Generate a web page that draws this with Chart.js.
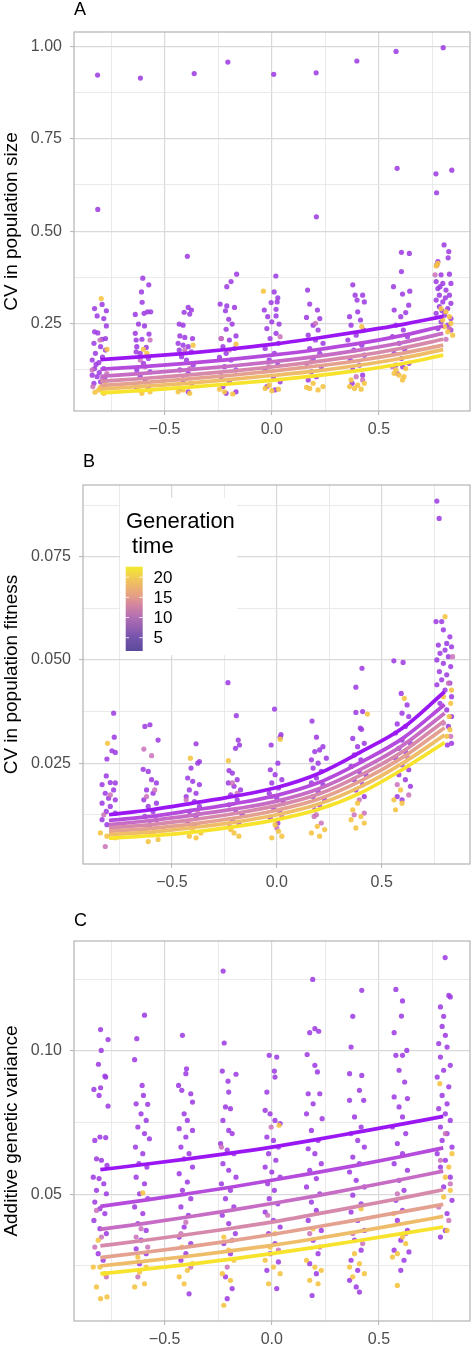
<!DOCTYPE html>
<html lang="en">
<head>
<meta charset="UTF-8">
<title>CV and additive genetic variance</title>
<style>
  html, body { margin: 0; padding: 0; background: #fff; overflow: hidden; }
  .panel { position: absolute; left: 0; width: 474px; }
  #panel-a { top: 0; height: 450px; }
  #panel-b { top: 450px; height: 450px; }
  #panel-c { top: 900px; height: 460px; }
</style>
</head>
<body>
<div class="panel" id="panel-a"><canvas id="chart-a" width="474" height="450"></canvas></div>
<div class="panel" id="panel-b"><canvas id="chart-b" width="474" height="450"></canvas></div>
<div class="panel" id="panel-c"><canvas id="chart-c" width="474" height="460"></canvas></div>

<script src="https://cdn.jsdelivr.net/npm/chart.js@4.4.0/dist/chart.umd.min.js"></script>
<script>
// x positions of the fitted curves
const FIT_X = [-0.8, -0.6, -0.4, -0.2, 0, 0.2, 0.4, 0.6, 0.8];

// colour bar ticks (generation time)
const GEN_TICKS = [5, 10, 15, 20];
const GEN_MIN = 1.7;
const GEN_MAX = 22.6;

// ---- panel A : CV in population size ----
const A_FITS = [
  [0.153, 0.161, 0.170, 0.181, 0.194, 0.210, 0.228, 0.247, 0.270],
  [0.127, 0.134, 0.143, 0.153, 0.165, 0.179, 0.196, 0.217, 0.244],
  [0.108, 0.116, 0.125, 0.135, 0.147, 0.161, 0.178, 0.198, 0.224],
  [0.094, 0.102, 0.111, 0.121, 0.133, 0.147, 0.163, 0.183, 0.208],
  [0.083, 0.091, 0.100, 0.110, 0.122, 0.135, 0.150, 0.169, 0.192],
  [0.073, 0.081, 0.089, 0.099, 0.110, 0.122, 0.137, 0.156, 0.180],
  [0.063, 0.070, 0.078, 0.087, 0.097, 0.109, 0.123, 0.141, 0.165]
];
const A_PURPLE = [
  [-0.813,0.922],[-0.613,0.914],[-0.362,0.926],[-0.205,0.957],[0.009,0.924],[0.207,0.928],[0.397,0.960],[0.580,0.986],[0.800,0.996],
  [-0.812,0.559],[0.585,0.670],[0.766,0.655],[0.840,0.665],[0.769,0.604],[0.208,0.539],[-0.394,0.432],[0.804,0.463],
  [0.605,0.443],[0.642,0.440],[0.826,0.445],[0.775,0.418],[0.823,0.428],
  [-0.827,0.291],[-0.792,0.302],[-0.772,0.285],[-0.815,0.271],[-0.784,0.264],[-0.772,0.244],[-0.827,0.228],[-0.812,0.225],
  [-0.776,0.210],[-0.792,0.208],[-0.830,0.197],[-0.799,0.188],[-0.776,0.179],[-0.823,0.170],[-0.838,0.152],[-0.807,0.145],
  [-0.827,0.129],[-0.784,0.129],[-0.838,0.111],[-0.815,0.107],[-0.830,0.089],[-0.799,0.093],[-0.790,0.160],[-0.820,0.140],
  [-0.805,0.118],[-0.780,0.103],
  [-0.602,0.373],[-0.574,0.355],[-0.608,0.336],[-0.605,0.308],[-0.637,0.275],[-0.596,0.278],[-0.580,0.282],[-0.565,0.282],
  [-0.622,0.249],[-0.594,0.244],[-0.637,0.224],[-0.573,0.222],[-0.633,0.206],[-0.606,0.208],[-0.630,0.188],[-0.586,0.186],
  [-0.633,0.174],[-0.614,0.170],[-0.576,0.156],[-0.599,0.143],[-0.630,0.125],[-0.568,0.120],[-0.614,0.107],[-0.591,0.093],
  [-0.633,0.080],[-0.576,0.075],
  [-0.409,0.281],[-0.390,0.294],[-0.375,0.287],[-0.383,0.276],[-0.432,0.249],[-0.414,0.246],[-0.429,0.217],[-0.406,0.213],
  [-0.370,0.210],[-0.437,0.197],[-0.414,0.192],[-0.390,0.188],[-0.432,0.179],[-0.375,0.174],[-0.421,0.161],[-0.398,0.152],
  [-0.367,0.138],[-0.429,0.125],[-0.390,0.116],[-0.414,0.098],[-0.375,0.089],[-0.429,0.075],[-0.390,0.066],
  [-0.164,0.384],[-0.190,0.364],[-0.210,0.350],[-0.241,0.303],[-0.210,0.298],[-0.216,0.285],[-0.174,0.294],[-0.201,0.262],
  [-0.185,0.249],[-0.213,0.235],[-0.167,0.217],[-0.236,0.210],[-0.198,0.206],[-0.228,0.188],[-0.174,0.183],[-0.213,0.170],
  [-0.244,0.159],[-0.190,0.152],[-0.221,0.134],[-0.167,0.125],[-0.236,0.107],[-0.198,0.093],[-0.228,0.080],[-0.167,0.066],
  [-0.213,0.062],
  [0.019,0.379],[0.011,0.336],[0.028,0.320],[0.025,0.309],[-0.003,0.307],[-0.035,0.287],[0.020,0.289],[-0.019,0.269],
  [0.020,0.271],[0.000,0.255],[0.034,0.249],[-0.023,0.237],[0.020,0.224],[-0.008,0.210],[0.031,0.197],[-0.031,0.183],
  [0.012,0.170],[-0.012,0.152],[0.028,0.138],[-0.031,0.125],[0.008,0.107],[0.039,0.093],[-0.023,0.080],[0.015,0.071],
  [0.167,0.341],[0.177,0.303],[0.213,0.287],[0.224,0.264],[0.162,0.267],[0.193,0.246],[0.216,0.233],[0.170,0.219],
  [0.204,0.206],[0.239,0.197],[0.177,0.183],[0.224,0.170],[0.193,0.156],[0.162,0.143],[0.231,0.134],[0.185,0.120],
  [0.208,0.107],[0.170,0.098],
  [0.378,0.355],[0.389,0.327],[0.424,0.327],[0.398,0.314],[0.432,0.309],[0.363,0.269],[0.401,0.282],[0.414,0.260],
  [0.370,0.246],[0.429,0.233],[0.394,0.219],[0.355,0.206],[0.420,0.192],[0.383,0.179],[0.432,0.165],[0.366,0.152],
  [0.409,0.138],[0.378,0.125],[0.424,0.111],[0.375,0.089],
  [0.568,0.350],[0.610,0.330],[0.644,0.338],[0.571,0.287],[0.625,0.280],[0.602,0.269],[0.639,0.300],[0.579,0.246],
  [0.614,0.233],[0.563,0.215],[0.633,0.215],[0.594,0.197],[0.620,0.181],[0.571,0.170],[0.605,0.156],[0.640,0.143],
  [0.579,0.138],[0.611,0.134],[0.605,0.391],
  [0.770,0.409],[0.790,0.382],[0.829,0.384],[0.767,0.364],[0.798,0.359],[0.836,0.359],[0.775,0.345],[0.813,0.341],
  [0.782,0.327],[0.829,0.327],[0.767,0.314],[0.798,0.309],[0.836,0.305],[0.782,0.296],[0.821,0.291],[0.767,0.278],
  [0.806,0.273],[0.836,0.264],[0.790,0.255],[0.821,0.246],[0.836,0.233],[0.775,0.237],[0.785,0.350],[0.810,0.320],
  [0.795,0.285]
];
const A_PINK = [
  [-0.802,0.206],[-0.838,0.125],[-0.790,0.100],[-0.835,0.080],[-0.770,0.115],
  [-0.568,0.206],[-0.614,0.152],[-0.591,0.134],
  [-0.406,0.179],[-0.383,0.129],
  [-0.236,0.210],[-0.198,0.179],
  [0.039,0.215],[-0.015,0.134],
  [0.204,0.251],[0.182,0.147],
  [0.394,0.107],[0.424,0.098],
  [0.586,0.116],[0.563,0.134],
  [0.813,0.208],[0.762,0.382],[0.829,0.237]
];
const A_GOLD = [
  [-0.796,0.318],[-0.769,0.181],[-0.807,0.071],[-0.784,0.062],[-0.825,0.065],[-0.800,0.078],[-0.775,0.085],
  [-0.599,0.181],[-0.583,0.170],[-0.622,0.071],[-0.568,0.066],[-0.606,0.062],
  [-0.367,0.192],[-0.414,0.071],[-0.383,0.062],[-0.437,0.066],
  [-0.167,0.195],[-0.221,0.066],[-0.182,0.060],[-0.244,0.073],
  [-0.039,0.338],[-0.031,0.075],[0.000,0.069],[0.031,0.073],[-0.012,0.084],
  [0.177,0.075],[0.216,0.071],[0.239,0.080],[0.193,0.089],[0.162,0.078],
  [0.370,0.098],[0.401,0.084],[0.432,0.089],[0.386,0.075],[0.417,0.073],[0.363,0.080],[0.420,0.242],
  [0.571,0.116],[0.594,0.111],[0.617,0.107],[0.610,0.098],[0.579,0.125],[0.625,0.129],
  [0.775,0.413],[0.767,0.406],[0.790,0.291],[0.813,0.282],[0.829,0.269],[0.798,0.260],[0.836,0.251],[0.806,0.242],
  [0.821,0.228],[0.844,0.219]
];

// ---- panel B : CV in population fitness ----
const B_FITS = [
  [0.0125, 0.0137, 0.0153, 0.0170, 0.0191, 0.0225, 0.0277, 0.0335, 0.0423],
  [0.0111, 0.0121, 0.0136, 0.0152, 0.0172, 0.0203, 0.0252, 0.0310, 0.0392],
  [0.0101, 0.0111, 0.0124, 0.0139, 0.0158, 0.0188, 0.0235, 0.0293, 0.0371],
  [0.0093, 0.0101, 0.0113, 0.0128, 0.0147, 0.0175, 0.0221, 0.0278, 0.0353],
  [0.0085, 0.0092, 0.0103, 0.0117, 0.0136, 0.0163, 0.0207, 0.0264, 0.0336],
  [0.0077, 0.0083, 0.0094, 0.0107, 0.0125, 0.0151, 0.0193, 0.0250, 0.0318],
  [0.0068, 0.0074, 0.0083, 0.0096, 0.0113, 0.0138, 0.0178, 0.0235, 0.0300]
];
const B_PURPLE = [
  [-0.778,0.0371],[-0.775,0.0313],[-0.786,0.0280],[-0.770,0.0276],[-0.810,0.0260],[-0.813,0.0219],[-0.794,0.0203],
  [-0.770,0.0202],[-0.833,0.0198],[-0.778,0.0185],[-0.818,0.0177],[-0.802,0.0165],[-0.770,0.0161],[-0.833,0.0153],
  [-0.794,0.0145],[-0.813,0.0133],[-0.770,0.0129],[-0.833,0.0113],[-0.810,0.0101],
  [-0.629,0.0339],[-0.605,0.0343],[-0.566,0.0306],[-0.637,0.0235],[-0.613,0.0230],[-0.597,0.0210],[-0.574,0.0202],
  [-0.621,0.0185],[-0.590,0.0177],[-0.634,0.0161],[-0.574,0.0153],[-0.613,0.0145],[-0.590,0.0133],[-0.629,0.0121],
  [-0.574,0.0113],[-0.605,0.0101],
  [-0.385,0.0297],[-0.369,0.0254],[-0.409,0.0238],[-0.377,0.0250],[-0.425,0.0214],[-0.401,0.0206],[-0.369,0.0198],
  [-0.417,0.0185],[-0.385,0.0177],[-0.432,0.0169],[-0.393,0.0157],[-0.369,0.0145],[-0.417,0.0133],[-0.385,0.0121],
  [-0.425,0.0109],[-0.393,0.0101],
  [-0.233,0.0445],[-0.193,0.0365],[-0.184,0.0306],[-0.178,0.0294],[-0.197,0.0286],[-0.228,0.0232],[-0.212,0.0226],
  [-0.189,0.0210],[-0.231,0.0202],[-0.204,0.0194],[-0.173,0.0185],[-0.220,0.0173],[-0.189,0.0161],[-0.228,0.0149],
  [-0.197,0.0137],[-0.165,0.0125],[-0.212,0.0113],[-0.181,0.0105],
  [-0.011,0.0381],[-0.027,0.0294],[0.020,0.0319],[0.016,0.0313],[0.005,0.0250],[-0.031,0.0234],[-0.008,0.0222],
  [0.024,0.0210],[-0.024,0.0202],[0.008,0.0190],[-0.036,0.0177],[0.000,0.0165],[0.031,0.0153],[-0.016,0.0141],
  [0.016,0.0129],[-0.031,0.0117],[0.005,0.0105],
  [0.168,0.0352],[0.189,0.0313],[0.181,0.0278],[0.204,0.0282],[0.220,0.0290],[0.165,0.0258],[0.197,0.0250],
  [0.236,0.0262],[0.173,0.0238],[0.212,0.0230],[0.189,0.0214],[0.165,0.0202],[0.220,0.0198],[0.197,0.0181],
  [0.173,0.0169],[0.228,0.0161],[0.204,0.0149],[0.181,0.0137],
  [0.406,0.0480],[0.377,0.0434],[0.377,0.0373],[0.409,0.0375],[0.398,0.0335],[0.404,0.0332],[0.362,0.0310],
  [0.385,0.0290],[0.417,0.0298],[0.369,0.0270],[0.401,0.0258],[0.354,0.0242],[0.393,0.0230],[0.425,0.0222],
  [0.369,0.0210],[0.409,0.0198],[0.377,0.0185],[0.417,0.0169],
  [0.558,0.0498],[0.602,0.0494],[0.593,0.0419],[0.621,0.0391],[0.597,0.0371],[0.629,0.0363],[0.574,0.0345],
  [0.613,0.0339],[0.566,0.0323],[0.597,0.0306],[0.637,0.0298],[0.582,0.0286],[0.613,0.0278],[0.566,0.0262],
  [0.597,0.0246],[0.629,0.0234],[0.582,0.0222],[0.613,0.0210],[0.637,0.0194],[0.574,0.0169],[0.597,0.0161],
  [0.763,0.0885],[0.774,0.0843],[0.759,0.0593],[0.786,0.0593],[0.794,0.0573],[0.825,0.0556],[0.810,0.0540],
  [0.770,0.0536],[0.802,0.0524],[0.833,0.0532],[0.778,0.0516],[0.818,0.0508],[0.763,0.0500],[0.794,0.0492],
  [0.829,0.0484],[0.775,0.0472],[0.810,0.0464],[0.786,0.0452],[0.825,0.0444],[0.763,0.0440],[0.802,0.0427],
  [0.833,0.0411],[0.778,0.0395],[0.810,0.0379],[0.833,0.0363],[0.818,0.0339],[0.833,0.0298],[0.813,0.0294]
];
const B_PINK = [
  [-0.794,0.0173],[-0.825,0.0125],[-0.818,0.0048],
  [-0.634,0.0284],[-0.597,0.0268],[-0.582,0.0185],[-0.621,0.0169],
  [-0.432,0.0161],[-0.377,0.0129],[-0.409,0.0097],
  [-0.212,0.0202],[-0.189,0.0177],[-0.225,0.0097],
  [-0.024,0.0169],[0.024,0.0121],[0.000,0.0093],
  [0.178,0.0121],[0.212,0.0105],[0.189,0.0125],
  [0.393,0.0161],[0.369,0.0125],[0.417,0.0129],
  [0.621,0.0266],[0.574,0.0198],[0.629,0.0173],
  [0.838,0.0508],[0.818,0.0444],[0.829,0.0315],[0.794,0.0347]
];
const B_GOLD = [
  [-0.807,0.0298],[-0.778,0.0089],[-0.810,0.0073],[-0.770,0.0069],[-0.841,0.0081],
  [-0.621,0.0085],[-0.590,0.0077],[-0.566,0.0065],[-0.613,0.0060],
  [-0.412,0.0262],[-0.417,0.0073],[-0.385,0.0069],[-0.362,0.0081],[-0.401,0.0089],
  [-0.231,0.0256],[-0.204,0.0081],[-0.181,0.0073],[-0.220,0.0089],
  [0.016,0.0308],[-0.008,0.0101],[0.024,0.0073],[-0.024,0.0069],[0.008,0.0085],
  [0.193,0.0097],[0.165,0.0081],[0.204,0.0073],[0.228,0.0089],
  [0.432,0.0369],[0.385,0.0153],[0.362,0.0137],[0.401,0.0121],[0.417,0.0105],[0.377,0.0093],[0.354,0.0113],
  [0.608,0.0407],[0.590,0.0185],[0.566,0.0137],[0.597,0.0153],[0.558,0.0161],
  [0.802,0.0605],[0.833,0.0427],[0.829,0.0395],[0.822,0.0363],[0.825,0.0331],[0.810,0.0315],[0.794,0.0411]
];

// ---- panel C : additive genetic variance ----
const C_FITS = [
  [0.0586, 0.0604, 0.0623, 0.0643, 0.0665, 0.0690, 0.0717, 0.0744, 0.0772],
  [0.0458, 0.0479, 0.0501, 0.0524, 0.0549, 0.0575, 0.0602, 0.0631, 0.0662],
  [0.0378, 0.0398, 0.0420, 0.0443, 0.0468, 0.0494, 0.0522, 0.0551, 0.0581],
  [0.0320, 0.0339, 0.0359, 0.0380, 0.0403, 0.0430, 0.0458, 0.0486, 0.0516],
  [0.0279, 0.0297, 0.0316, 0.0337, 0.0360, 0.0385, 0.0411, 0.0438, 0.0465],
  [0.0250, 0.0266, 0.0283, 0.0302, 0.0322, 0.0345, 0.0370, 0.0396, 0.0423],
  [0.0223, 0.0238, 0.0255, 0.0273, 0.0293, 0.0315, 0.0338, 0.0362, 0.0386]
];
const C_PURPLE = [
  [-0.799,0.1075],[-0.764,0.1040],[-0.796,0.1002],[-0.809,0.0954],[-0.779,0.0913],[-0.775,0.0909],[-0.830,0.0866],
  [-0.799,0.0872],[-0.806,0.0845],[-0.764,0.0808],[-0.826,0.0688],[-0.802,0.0700],[-0.775,0.0698],[-0.818,0.0624],
  [-0.795,0.0619],[-0.769,0.0601],[-0.833,0.0560],[-0.806,0.0555],[-0.784,0.0537],[-0.818,0.0514],[-0.772,0.0502],
  [-0.826,0.0473],[-0.802,0.0450],[-0.779,0.0433],[-0.830,0.0409],[-0.802,0.0380],[-0.772,0.0363],[-0.810,0.0293],
  [-0.787,0.0270],
  [-0.630,0.1043],[-0.594,0.1125],[-0.640,0.0970],[-0.605,0.0880],[-0.599,0.0845],[-0.633,0.0816],[-0.579,0.0814],
  [-0.610,0.0781],[-0.586,0.0758],[-0.625,0.0735],[-0.594,0.0712],[-0.571,0.0694],[-0.636,0.0665],[-0.602,0.0642],
  [-0.620,0.0607],[-0.583,0.0595],[-0.633,0.0560],[-0.594,0.0537],[-0.617,0.0502],[-0.579,0.0485],[-0.640,0.0456],
  [-0.602,0.0433],[-0.625,0.0398],[-0.586,0.0374],[-0.610,0.0340],[-0.633,0.0310],[-0.586,0.0293],[-0.617,0.0258],
  [-0.417,0.1055],[-0.398,0.0938],[-0.401,0.0921],[-0.435,0.0880],[-0.420,0.0863],[-0.378,0.0851],[-0.370,0.0822],
  [-0.409,0.0781],[-0.394,0.0758],[-0.432,0.0729],[-0.370,0.0723],[-0.401,0.0700],[-0.424,0.0665],[-0.386,0.0642],
  [-0.409,0.0624],[-0.370,0.0595],[-0.432,0.0572],[-0.394,0.0543],[-0.417,0.0514],[-0.378,0.0485],[-0.424,0.0456],
  [-0.389,0.0427],[-0.409,0.0386],[-0.432,0.0351],[-0.378,0.0328],[-0.401,0.0293],[-0.424,0.0270],[-0.386,0.0153],
  [-0.227,0.1279],[-0.222,0.1028],[-0.231,0.0930],[-0.167,0.0919],[-0.204,0.0895],[-0.201,0.0857],[-0.216,0.0805],
  [-0.193,0.0799],[-0.228,0.0758],[-0.201,0.0723],[-0.185,0.0712],[-0.239,0.0677],[-0.208,0.0654],[-0.177,0.0642],
  [-0.228,0.0607],[-0.201,0.0584],[-0.167,0.0560],[-0.235,0.0537],[-0.193,0.0514],[-0.216,0.0485],[-0.177,0.0456],
  [-0.231,0.0427],[-0.201,0.0398],[-0.170,0.0363],[-0.224,0.0328],[-0.193,0.0293],[-0.216,0.0212],[-0.185,0.0171],
  [-0.208,0.0136],
  [-0.012,0.0985],[0.023,0.0979],[-0.023,0.0857],[0.012,0.0930],[0.015,0.0909],[-0.031,0.0793],[-0.008,0.0781],
  [0.015,0.0758],[0.039,0.0747],[-0.023,0.0700],[0.008,0.0688],[0.031,0.0665],[-0.015,0.0642],[0.019,0.0619],
  [-0.031,0.0595],[0.000,0.0578],[0.039,0.0560],[-0.019,0.0537],[0.012,0.0514],[-0.012,0.0485],[0.028,0.0467],
  [-0.031,0.0438],[0.008,0.0409],[0.039,0.0386],[-0.015,0.0363],[0.015,0.0328],[-0.008,0.0293],[0.031,0.0264],
  [-0.023,0.0235],[0.023,0.0171],
  [0.191,0.1250],[0.177,0.1064],[0.201,0.1078],[0.219,0.1069],[0.165,0.0988],[0.201,0.0950],[0.213,0.0927],
  [0.170,0.0851],[0.224,0.0851],[0.193,0.0816],[0.235,0.0764],[0.162,0.0781],[0.185,0.0723],[0.216,0.0688],
  [0.170,0.0659],[0.201,0.0642],[0.231,0.0607],[0.177,0.0584],[0.208,0.0555],[0.162,0.0526],[0.224,0.0502],
  [0.185,0.0473],[0.208,0.0444],[0.170,0.0409],[0.231,0.0374],[0.193,0.0340],[0.216,0.0293],[0.177,0.0258],
  [0.208,0.0223],[0.188,0.0147],
  [0.420,0.1212],[0.378,0.1121],[0.370,0.1014],[0.363,0.0921],[0.420,0.0915],[0.363,0.0828],[0.409,0.0863],
  [0.429,0.0828],[0.386,0.0770],[0.417,0.0735],[0.370,0.0712],[0.401,0.0688],[0.432,0.0665],[0.378,0.0630],
  [0.409,0.0607],[0.363,0.0578],[0.394,0.0549],[0.432,0.0526],[0.378,0.0497],[0.417,0.0467],[0.370,0.0438],
  [0.401,0.0409],[0.432,0.0374],[0.386,0.0340],[0.417,0.0305],[0.370,0.0270],[0.401,0.0235],[0.363,0.0200],
  [0.394,0.0177],[0.409,0.0159],
  [0.579,0.1215],[0.610,0.1175],[0.605,0.1122],[0.571,0.1064],[0.630,0.1002],[0.579,0.0985],[0.610,0.0985],
  [0.594,0.0933],[0.620,0.0892],[0.571,0.0840],[0.633,0.0834],[0.594,0.0805],[0.610,0.0770],[0.563,0.0735],
  [0.625,0.0712],[0.586,0.0677],[0.610,0.0642],[0.571,0.0607],[0.633,0.0584],[0.594,0.0549],[0.617,0.0514],
  [0.579,0.0479],[0.610,0.0444],[0.586,0.0409],[0.633,0.0374],[0.602,0.0340],[0.571,0.0305],[0.617,0.0270],
  [0.640,0.0299],[0.602,0.0235],
  [0.809,0.1326],[0.833,0.1189],[0.826,0.1194],[0.787,0.1154],[0.802,0.1121],[0.795,0.1086],[0.810,0.1055],
  [0.779,0.1026],[0.818,0.1014],[0.787,0.0979],[0.833,0.0950],[0.802,0.0933],[0.772,0.0909],[0.826,0.0875],
  [0.795,0.0845],[0.818,0.0816],[0.779,0.0799],[0.810,0.0781],[0.833,0.0758],[0.787,0.0735],[0.818,0.0712],
  [0.795,0.0688],[0.841,0.0665],[0.772,0.0642],[0.810,0.0619],[0.787,0.0595],[0.833,0.0560],[0.802,0.0526],
  [0.841,0.0479],[0.818,0.0433],[0.787,0.0351],[0.810,0.0374]
];
const C_PINK = [
  [-0.818,0.0444],[-0.795,0.0351],[-0.826,0.0316],[-0.772,0.0212],
  [-0.610,0.0380],[-0.633,0.0351],[-0.579,0.0316],[-0.625,0.0212],
  [-0.401,0.0403],[-0.424,0.0363],[-0.378,0.0246],
  [-0.235,0.0665],[-0.185,0.0340],[-0.208,0.0246],
  [-0.003,0.0735],[-0.019,0.0427],[0.031,0.0305],
  [0.177,0.0363],[0.224,0.0316],
  [0.378,0.0363],[0.424,0.0328],
  [0.586,0.0502],[0.625,0.0363],
  [0.810,0.0712],[0.787,0.0619],[0.833,0.0537],[0.779,0.0456],[0.826,0.0409]
];
const C_GOLD = [
  [-0.810,0.0340],[-0.833,0.0246],[-0.802,0.0246],[-0.779,0.0223],[-0.799,0.0136],[-0.818,0.0177],[-0.769,0.0142],
  [-0.602,0.0505],[-0.617,0.0229],[-0.586,0.0246],[-0.640,0.0177],[-0.594,0.0188],[-0.625,0.0281],
  [-0.420,0.0316],[-0.394,0.0235],[-0.432,0.0212],[-0.370,0.0258],[-0.409,0.0188],
  [-0.224,0.0351],[-0.201,0.0305],[-0.177,0.0270],[-0.231,0.0223],[-0.193,0.0200],[-0.224,0.0113],
  [0.034,0.0741],[0.015,0.0363],[-0.008,0.0316],[-0.031,0.0270],[0.008,0.0246],[0.039,0.0223],[-0.015,0.0188],
  [0.193,0.0380],[0.162,0.0270],[0.201,0.0246],[0.231,0.0235],[0.177,0.0200],[0.216,0.0188],
  [0.417,0.0450],[0.386,0.0293],[0.363,0.0246],[0.409,0.0258],[0.432,0.0223],[0.378,0.0212],
  [0.568,0.0433],[0.610,0.0351],[0.586,0.0293],[0.563,0.0281],[0.625,0.0328],[0.586,0.0182],
  [0.784,0.0886],[0.826,0.0595],[0.810,0.0560],[0.833,0.0514],[0.802,0.0491],[0.818,0.0374],[0.841,0.0642]
];

// ---- styling ----
const FONT = "'Liberation Sans', Arial, Helvetica, sans-serif";
const FIT_COLORS = ['#9a17f3', '#b54bdc', '#c76cc4', '#d689aa', '#e4a18f', '#efbd69', '#f7e32b'];
const PURPLE = 'rgba(158, 62, 226, 0.88)';
const PINK = 'rgba(202, 112, 186, 0.85)';
const GOLD = 'rgba(245, 196, 68, 0.9)';

function isMajor(v, step) {
  const r = v / step;
  return Math.abs(r - Math.round(r)) < 1e-6;
}

function fmt(v, d) {
  if (Math.abs(v) < 1e-9) v = 0;
  return (v < 0 ? '\u2212' : '') + Math.abs(v).toFixed(d);
}

function pointSet(pts, color, order) {
  return {
    type: 'scatter',
    data: pts.map(p => ({ x: p[0], y: p[1] })),
    backgroundColor: color,
    borderWidth: 0,
    pointRadius: 2.6,
    order
  };
}

function fitSets(fits) {
  return fits.map((vals, i) => ({
    type: 'line',
    data: FIT_X.map((x, j) => ({ x, y: vals[j] })),
    borderColor: FIT_COLORS[i],
    borderWidth: 3.7,
    pointRadius: 0,
    cubicInterpolationMode: 'monotone',
    fill: false,
    order: FIT_COLORS.length - i
  }));
}

// grey frame round the panel
const panelFrame = {
  id: 'panelFrame',
  afterDatasetsDraw(chart) {
    const { ctx, chartArea: a } = chart;
    ctx.save();
    ctx.strokeStyle = '#b3b3b3';
    ctx.lineWidth = 1.2;
    ctx.strokeRect(a.left, a.top, a.right - a.left, a.bottom - a.top);
    ctx.restore();
  }
};

// panel letter A/B/C
const panelLabel = {
  id: 'panelLabel',
  afterDraw(chart, args, opts) {
    const { ctx, chartArea } = chart;
    ctx.save();
    ctx.fillStyle = '#000';
    ctx.font = '18px ' + FONT;
    ctx.textBaseline = 'alphabetic';
    ctx.fillText(opts.text, chartArea.left, opts.y);
    ctx.restore();
  }
};

// colour bar legend for generation time (panel B only)
const genLegend = {
  id: 'genLegend',
  beforeDatasetsDraw(chart, args, opts) {
    if (!opts.show) return;
    const ctx = chart.ctx;
    ctx.save();
    ctx.fillStyle = '#fff';
    ctx.fillRect(120, 48, 117, 157);

    ctx.fillStyle = '#000';
    ctx.font = '22px ' + FONT;
    ctx.textBaseline = 'alphabetic';
    ctx.fillText('Generation', 126, 78);
    ctx.fillText(' time', 126, 103);

    const bx = 125.7, bw = 17, top = 116.7, bottom = 201;
    const g = ctx.createLinearGradient(0, bottom, 0, top);
    g.addColorStop(0, '#5b4a9d');
    g.addColorStop(0.18, '#7a55ad');
    g.addColorStop(0.40, '#b26eb3');
    g.addColorStop(0.55, '#d4869f');
    g.addColorStop(0.66, '#e6a084');
    g.addColorStop(0.83, '#f0c25e');
    g.addColorStop(1, '#f2ea2e');
    ctx.fillStyle = g;
    ctx.fillRect(bx, top, bw, bottom - top);

    ctx.font = '17px ' + FONT;
    ctx.textBaseline = 'middle';
    GEN_TICKS.forEach(t => {
      const y = top + (GEN_MAX - t) / (GEN_MAX - GEN_MIN) * (bottom - top);
      ctx.strokeStyle = 'rgba(255,255,255,0.8)';
      ctx.lineWidth = 1;
      ctx.beginPath();
      ctx.moveTo(bx, y); ctx.lineTo(bx + 3.4, y);
      ctx.moveTo(bx + bw - 3.4, y); ctx.lineTo(bx + bw, y);
      ctx.stroke();
      ctx.fillStyle = '#000';
      ctx.fillText(String(t), 153.5, y + 1);
    });
    ctx.restore();
  }
};

function makeChart(id, cfg) {
  const datasets = [
    pointSet(cfg.purple, PURPLE, 12),
    pointSet(cfg.pink, PINK, 11),
    pointSet(cfg.gold, GOLD, 10)
  ].concat(fitSets(cfg.fits));

  const gridColor = (step) => (c) => (c.tick && isMajor(c.tick.value, step)) ? '#d9d9d9' : '#e8e8e8';
  const gridWidth = (step) => (c) => (c.tick && isMajor(c.tick.value, step)) ? 1.2 : 0.9;
  const tickColor = (step) => (c) => (c.tick && isMajor(c.tick.value, step)) ? '#b3b3b3' : 'rgba(0,0,0,0)';

  return new Chart(document.getElementById(id), {
    type: 'scatter',
    data: { datasets },
    options: {
      responsive: false,
      animation: false,
      events: [],
      layout: { padding: { top: cfg.padTop, right: 1, left: 0, bottom: 0 } },
      plugins: {
        legend: { display: false },
        tooltip: { enabled: false },
        panelLabel: { text: cfg.label, y: cfg.labelY },
        genLegend: { show: !!cfg.legend }
      },
      scales: {
        x: {
          type: 'linear',
          min: cfg.xMin,
          max: cfg.xMax,
          afterFit: s => { s.height = cfg.xAxisH; },
          border: { display: false },
          grid: { color: gridColor(0.5), lineWidth: gridWidth(0.5), tickLength: 4, tickColor: tickColor(0.5), tickWidth: 1 },
          ticks: {
            stepSize: 0.25,
            includeBounds: false,
            autoSkip: false,
            maxRotation: 0,
            padding: 5,
            color: '#4d4d4d',
            font: { family: FONT, size: 16 },
            callback: v => isMajor(v, 0.5) ? fmt(v, 1) : ''
          }
        },
        y: {
          type: 'linear',
          min: cfg.yMin,
          max: cfg.yMax,
          afterFit: s => { s.width = cfg.yAxisW; },
          border: { display: false },
          grid: { color: gridColor(cfg.yMajor), lineWidth: gridWidth(cfg.yMajor), tickLength: 4, tickColor: tickColor(cfg.yMajor), tickWidth: 1 },
          title: {
            display: true,
            text: cfg.yTitle,
            color: '#000',
            font: { family: FONT, size: 19 },
            padding: { top: 0, bottom: 0 }
          },
          ticks: {
            stepSize: cfg.yMajor / 2,
            includeBounds: false,
            autoSkip: false,
            padding: 8,
            color: '#4d4d4d',
            font: { family: FONT, size: 16 },
            callback: v => isMajor(v, cfg.yMajor) ? fmt(v, cfg.yDigits) : ''
          }
        }
      }
    },
    plugins: [panelFrame, panelLabel, genLegend]
  });
}

makeChart('chart-a', {
  label: 'A', labelY: 15, padTop: 32, xAxisH: 39, yAxisW: 74,
  xMin: -0.923, xMax: 0.925, yMin: 0.0141, yMax: 1.0384, yMajor: 0.25, yDigits: 2,
  yTitle: 'CV in population size',
  purple: A_PURPLE, pink: A_PINK, gold: A_GOLD, fits: A_FITS
});

makeChart('chart-b', {
  label: 'B', labelY: 17, padTop: 35, xAxisH: 36, yAxisW: 83,
  xMin: -0.924, xMax: 0.921, yMin: 0.00056, yMax: 0.0924, yMajor: 0.025, yDigits: 3,
  yTitle: 'CV in population fitness', legend: true,
  purple: B_PURPLE, pink: B_PINK, gold: B_GOLD, fits: B_FITS
});

makeChart('chart-c', {
  label: 'C', labelY: 26, padTop: 41, xAxisH: 39, yAxisW: 74,
  xMin: -0.923, xMax: 0.925, yMin: 0.0058, yMax: 0.1384, yMajor: 0.05, yDigits: 2,
  yTitle: 'Additive genetic variance',
  purple: C_PURPLE, pink: C_PINK, gold: C_GOLD, fits: C_FITS
});
</script>
</body>
</html>
